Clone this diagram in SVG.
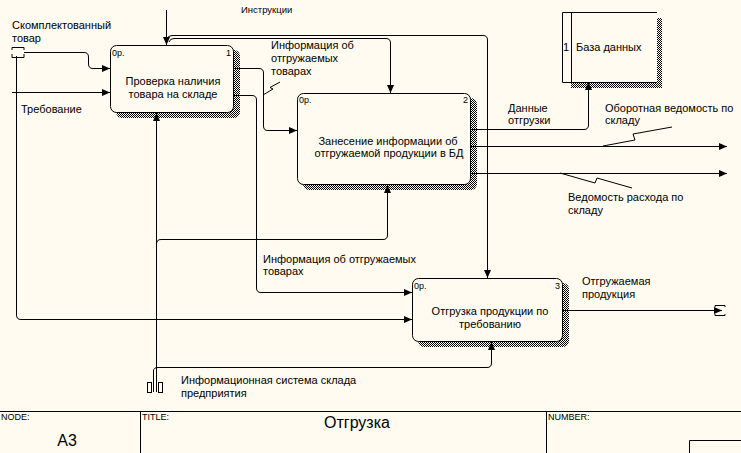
<svg xmlns="http://www.w3.org/2000/svg" width="741" height="453" viewBox="0 0 741 453">
<defs>
<pattern id="hatch" width="2" height="2" patternUnits="userSpaceOnUse"><rect width="1" height="1" fill="#000"/><rect x="1" y="1" width="1" height="1" fill="#000"/></pattern>
<marker id="ah" markerWidth="8" markerHeight="7" refX="8" refY="3.5" orient="auto" markerUnits="userSpaceOnUse"><path d="M0,0 L8,3.5 L0,7 z" fill="#000"/></marker>
</defs>
<style>
text{font-family:"Liberation Sans",Arial,sans-serif;font-size:11px;fill:#000}
.sm{font-size:9px}
.box{fill:#fffbf0;stroke:#000;stroke-width:1}
.sh{fill:url(#hatch);stroke:none}
.ln{fill:none;stroke:#000;stroke-width:1}
.ar{fill:none;stroke:#000;stroke-width:1;marker-end:url(#ah)}
.c{text-anchor:middle}
</style>
<rect width="741" height="453" fill="#fffbf0"/>

<g id="node1">
<rect class="sh" x="116" y="50" width="124" height="68" rx="6"/>
<rect class="box" x="110.5" y="45.5" width="123" height="67" rx="6"/>
<text class="sm" x="112" y="56">0р.</text>
<text class="sm" x="226" y="56">1</text>
<text class="c" x="173" y="85">Проверка наличия</text>
<text class="c" x="173" y="98">товара на складе</text>
</g>

<g id="node2">
<rect class="sh" x="303" y="98" width="174" height="92" rx="6"/>
<rect class="box" x="297.5" y="93.5" width="173" height="91" rx="6"/>
<text class="sm" x="299" y="103">0р.</text>
<text class="sm" x="463" y="103">2</text>
<text class="c" x="388" y="145">Занесение информации об</text>
<text class="c" x="389" y="157">отгружаемой продукции в  БД</text>
</g>

<g id="node3">
<rect class="sh" x="418" y="283" width="151" height="64" rx="6"/>
<rect class="box" x="412.5" y="278.5" width="150" height="63" rx="6"/>
<text class="sm" x="414" y="289">0р.</text>
<text class="sm" x="555" y="289">3</text>
<text class="c" x="490" y="315">Отгрузка продукции по</text>
<text class="c" x="490" y="328">требованию</text>
</g>

<g id="datastore">
<rect class="sh" x="657" y="18" width="5" height="70"/>
<rect class="sh" x="571" y="83" width="91" height="5"/>
<rect x="562" y="12" width="95" height="70" fill="#fffbf0"/>
<path class="ln" d="M657,12.5 L562.5,12.5 L562.5,82.5 L657,82.5 M571.5,12.5 L571.5,82.5"/>
<text x="563" y="51">1</text>
<text x="576" y="51">База данных</text>
</g>

<g id="connectors">
<!-- Скомплектованный товар -->
<path class="ln" d="M12,50 L12,47.5 L24,47.5 L24,50 M12,54 L12,57.5 L24,57.5 L24,54"/>
<path class="ar" d="M24,52.5 L84,52.5 Q88.5,52.5 88.5,57 L88.5,64 Q88.5,68.5 93,68.5 L110,68.5"/>
<path class="ar" d="M16.5,56 L16.5,315 Q16.5,319.5 21,319.5 L412,319.5"/>
<!-- Требование -->
<path class="ar" d="M12,92.5 L110,92.5"/>
<!-- Инструкции -->
<path class="ar" d="M166.5,10 L166.5,45"/>
<path class="ar" d="M167,39 Q168,35.5 172,35.5 L483,35.5 Q487.5,35.5 487.5,40 L487.5,278"/>
<path class="ar" d="M169,42 Q170,38.5 174,38.5 L386,38.5 Q390.5,38.5 390.5,43 L390.5,93"/>
<!-- box1 outputs -->
<path class="ar" d="M233,68.5 L259,68.5 Q263.5,68.5 263.5,73 L263.5,126 Q263.5,130.5 268,130.5 L297,130.5"/>
<path class="ar" d="M233,95.5 L252,95.5 Q256.5,95.5 256.5,100 L256.5,288 Q256.5,292.5 261,292.5 L412,292.5"/>
<path class="ln" d="M263,95 L273,89 L270,87.5 L280,82"/>
<!-- box2 outputs -->
<path class="ar" d="M471,129.5 L584,129.5 Q588.5,129.5 588.5,125 L588.5,82"/>
<path class="ar" d="M471,146.5 L727,146.5"/>
<path class="ar" d="M471,173.5 L727,173.5"/>
<path class="ln" d="M603,146 L635,140 L633,134 L672,127"/>
<path class="ln" d="M560,173 L595,183 L597,178 L632,188"/>
<!-- Механизм -->
<rect class="ln" x="147.5" y="382.5" width="4" height="10"/>
<rect class="ln" x="158.5" y="382.5" width="4" height="10"/>
<path class="ar" d="M156.5,392 L156.5,113"/>
<path class="ar" d="M156.5,244 Q156.5,239.5 161,239.5 L383,239.5 Q387.5,239.5 387.5,235 L387.5,185"/>
<path class="ar" d="M153.5,392 L153.5,371 Q153.5,367.5 158,367.5 L487,367.5 Q491.5,367.5 491.5,363 L491.5,342"/>
<!-- Отгружаемая продукция -->
<path class="ar" d="M562,310.5 L722,310.5"/>
<path class="ln" d="M715,307 L715,305.5 L725,305.5 L725,307 M715,314 L715,315.5 L725,315.5 L725,314"/>
</g>

<g id="labels">
<text x="12" y="29">Скомплектованный</text>
<text x="12" y="42">товар</text>
<text x="21" y="113">Требование</text>
<text class="sm" x="241" y="13" style="font-size:9.5px">Инструкции</text>
<text x="271" y="49">Информация об</text>
<text x="271" y="62">отгружаемых</text>
<text x="271" y="75">товарах</text>
<text x="508" y="112">Данные</text>
<text x="508" y="124">отгрузки</text>
<text x="605" y="112">Оборотная ведомость по</text>
<text x="605" y="124">складу</text>
<text x="568" y="201">Ведомость расхода по</text>
<text x="568" y="214">складу</text>
<text x="263" y="263">Информация об отгружаемых</text>
<text x="263" y="275">товарах</text>
<text x="582" y="285">Отгружаемая</text>
<text x="582" y="298">продукция</text>
<text x="181" y="384">Информационная система склада</text>
<text x="181" y="397">предприятия</text>
</g>

<g id="frame">
<path class="ln" d="M0,411.5 L741,411.5 M140.5,411 L140.5,453 M546.5,411 L546.5,453 M689.5,453 L689.5,440.5 L741,440.5"/>
<text class="sm" x="1" y="420">NODE:</text>
<text class="sm" x="142" y="420">TITLE:</text>
<text class="sm" x="548" y="420">NUMBER:</text>
<text class="c" x="67" y="446" style="font-size:16px">A3</text>
<text class="c" x="357" y="428" style="font-size:16px">Отгрузка</text>
</g>
</svg>
